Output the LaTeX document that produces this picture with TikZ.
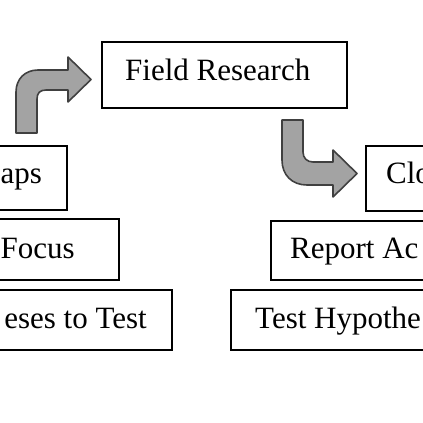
\documentclass[tikz,border=0pt]{standalone}
\usepackage{fontspec}
\setmainfont{Liberation Serif}
\tikzset{
  boxframe/.style={draw=black, line width=2pt, fill=white},
  lbl/.style={inner sep=0pt, font=\fontsize{31}{36}\selectfont, text=black},
  bentarrow/.style={fill=black!36, draw=black!75, line width=1.6pt, line join=round}
}
\begin{document}
\begin{tikzpicture}[x=1pt,y=-1pt]
\useasboundingbox (0,0) rectangle (423,423);
\clip (0,0) rectangle (423,423);
\fill[white] (0,0) rectangle (423,423);
% boxes
\draw[boxframe] (102,42) rectangle (347,108) coordinate (frbox);
\draw[boxframe] (-50,146) rectangle (67,210) coordinate (gapsbox);
\draw[boxframe] (-50,219) rectangle (119,280) coordinate (focusbox);
\draw[boxframe] (-50,290) rectangle (172,350) coordinate (hypbox);
\draw[boxframe] (366,146) rectangle (480,211) coordinate (clobox);
\draw[boxframe] (271,221) rectangle (480,280) coordinate (repbox);
\draw[boxframe] (231,290) rectangle (480,350) coordinate (testbox);
% texts
\node[lbl, anchor=base west] (fr) at (125,80) {Field Research};
\node[lbl, anchor=base west] (gaps) at (0.5,183) {aps};
\node[lbl, anchor=base west] (focus) at (0.5,258) {Focus};
\node[lbl, anchor=base east] (hyp) at (147,328) {eses to Test};
\node[lbl, anchor=base west] (clo) at (386,183) {Clo};
\node[lbl, anchor=base west] (rep) at (290,258) {Report Ac};
\node[lbl, anchor=base west] (test) at (255,328) {Test Hypothe};
% bent arrows
\draw[bentarrow] (16,133) -- (16,92) .. controls (16,79) and (25,70) .. (38,70)
  -- (68,70) -- (68,57) -- (91,79.5) -- (68,102) -- (68,90) -- (46,90)
  .. controls (40,90) and (37,93) .. (37,99) -- (37,133) -- cycle;
\draw[bentarrow] (282,120) -- (282,160) .. controls (282,175) and (292,185) .. (307,185)
  -- (333,185) -- (333,197) -- (357,173.5) -- (333,150) -- (333,162) -- (313,162)
  .. controls (307,162) and (303,158) .. (303,152) -- (303,120) -- cycle;
\end{tikzpicture}
\end{document}
